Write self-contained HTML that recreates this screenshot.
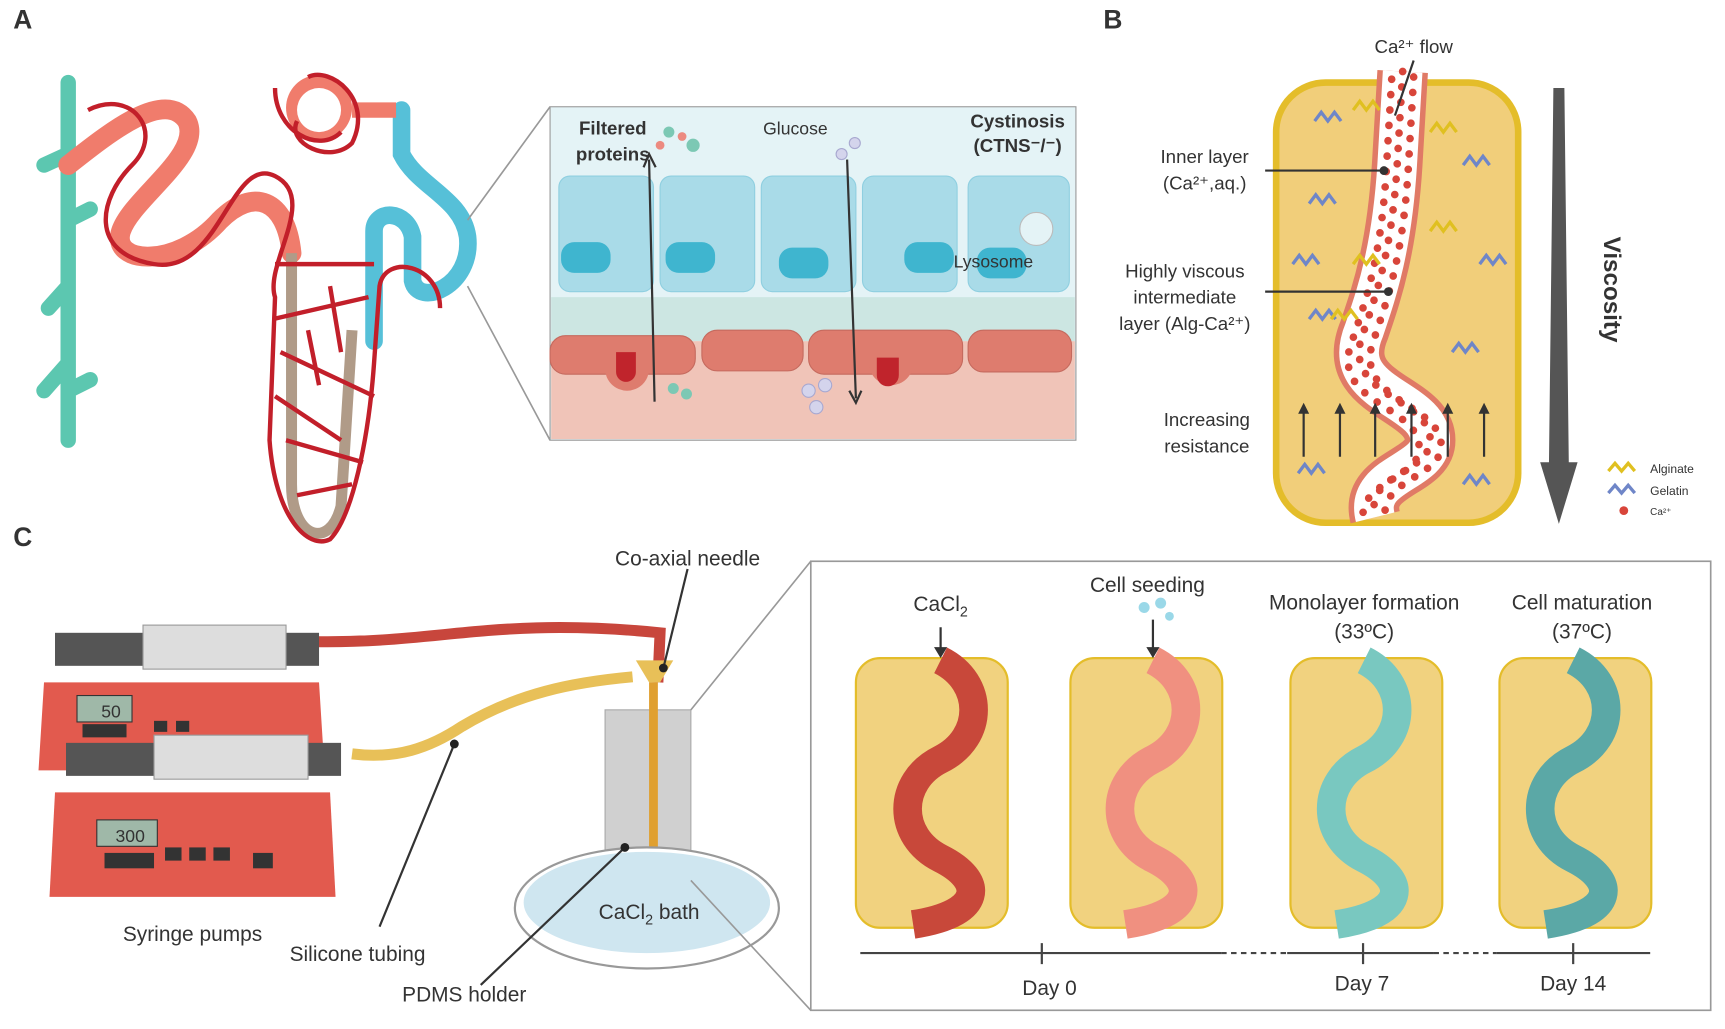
<!DOCTYPE html>
<html><head><meta charset="utf-8"><style>
html,body{margin:0;padding:0;background:#fff;width:1725px;height:1029px;overflow:hidden}
svg text{font-family:"Liberation Sans",Arial,sans-serif;fill:#333}
</style></head><body>
<svg width="1725" height="1029" viewBox="0 0 1568 935" preserveAspectRatio="none" xmlns="http://www.w3.org/2000/svg">
<rect width="1568" height="935" fill="#fff"/>
<text x="12" y="26" font-size="24" font-weight="bold" fill="#111">A</text>
<text x="1003" y="26" font-size="24" font-weight="bold" fill="#111">B</text>
<text x="12" y="496" font-size="24" font-weight="bold" fill="#111">C</text>

<!-- Panel A kidney -->
<path d="M62 75 L62 400 M62 140 L40 150 M62 200 L82 190 M62 260 L44 280 M62 330 L40 355 M62 355 L82 345" stroke="#5cc7b0" stroke-width="14" fill="none" stroke-linecap="round"/>
<path d="M62 150 C100 120,150 80,170 110 C185 140,120 180,110 210 C100 240,160 245,200 200 C230 170,260 180,265 230" stroke="#f07c6c" stroke-width="18" fill="none" stroke-linecap="round"/>
<path d="M265 230 L265 440 C265 490,300 500,310 460 L320 300" stroke="#b09b88" stroke-width="10" fill="none"/>
<path d="M340 310 L340 210 C340 190,370 190,375 215 L375 255 C380 280,430 260,425 215 C420 180,380 170,365 140 L365 100" stroke="#56c0d8" stroke-width="16" fill="none" stroke-linecap="round"/>
<circle cx="290" cy="98" r="30" fill="#f07c6c"/><circle cx="290" cy="100" r="20" fill="#fff"/>
<path d="M320 100 L360 100" stroke="#f07c6c" stroke-width="14"/>
<g stroke="#c21f2a" stroke-width="4" fill="none">
<path d="M80 100 C120 80,150 120,120 150 C90 180,80 230,140 240 C200 250,210 140,250 160 C290 180,240 240,250 270 L245 400 C250 470,280 500,300 490 C320 470,335 400,340 330 L345 260 C350 230,400 240,400 280"/>
<path d="M250 240 L340 240 M248 290 L335 270 M255 320 L340 360 M250 360 L310 400 M260 400 L330 420 M280 300 L290 350 M300 260 L310 320 M270 450 L320 440"/>
<path d="M250 80 C250 120,290 140,310 120 M280 70 C300 60,340 90,320 130 C300 150,260 130,270 110"/>
</g>
<path d="M425 200 L500 97 M425 260 L500 400" stroke="#999" stroke-width="1.5"/>
<rect x="500" y="97" width="478" height="303" fill="#e4f3f6" stroke="#999"/>
<rect x="501" y="270" width="476" height="40" fill="#cce6e2"/>
<rect x="501" y="310" width="476" height="89" fill="#f0c4b8"/>
<g fill="#a9dbe8" stroke="#8fcfe0">
<rect x="508" y="160" width="86" height="105" rx="10"/><rect x="600" y="160" width="86" height="105" rx="10"/>
<rect x="692" y="160" width="86" height="105" rx="10"/><rect x="784" y="160" width="86" height="105" rx="10"/>
<rect x="880" y="160" width="92" height="105" rx="10"/></g>
<g fill="#3fb5cf"><rect x="510" y="220" width="45" height="28" rx="12"/><rect x="605" y="220" width="45" height="28" rx="12"/><rect x="708" y="225" width="45" height="28" rx="12"/><rect x="822" y="220" width="45" height="28" rx="12"/><rect x="888" y="225" width="45" height="28" rx="12"/></g>
<circle cx="942" cy="208" r="15" fill="#e4f3f6" stroke="#bbb"/>
<g fill="#de7c6e" stroke="#c56a5e"><rect x="500" y="305" width="132" height="35" rx="14"/><rect x="638" y="300" width="92" height="37" rx="14"/><rect x="735" y="300" width="140" height="40" rx="14"/><rect x="880" y="300" width="94" height="38" rx="14"/></g>
<path d="M550 335 a20 20 0 0 0 40 0 z M790 330 a20 20 0 0 0 40 0z" fill="#de7c6e"/>
<path d="M560 320 h18 v18 a9 9 0 0 1 -18 0z M797 325 h20 v16 a10 10 0 0 1 -20 0z" fill="#c0242c"/>
<path d="M595 365 L590 145 M770 145 L778 362" stroke="#333" stroke-width="2" fill="none"/>
<path d="M585 152 L590 140 L596 152 M772 355 L778 366 L783 355" stroke="#333" stroke-width="2" fill="none"/>
<text x="557" y="122" font-size="17" font-weight="bold" text-anchor="middle">Filtered</text>
<text x="557" y="146" font-size="17" font-weight="bold" text-anchor="middle">proteins</text>
<text x="723" y="122" font-size="16" text-anchor="middle" fill="#8a9ac8">Glucose</text>
<text x="925" y="116" font-size="17" font-weight="bold" text-anchor="middle">Cystinosis</text>
<text x="925" y="138" font-size="17" font-weight="bold" text-anchor="middle">(CTNS⁻/⁻)</text>
<text x="903" y="243" font-size="16" text-anchor="middle" fill="#555">Lysosome</text>
<g fill="#7cc8b4"><circle cx="608" cy="120" r="5"/><circle cx="630" cy="132" r="6"/><circle cx="612" cy="353" r="5"/><circle cx="624" cy="358" r="5"/></g>
<g fill="#ec8a80"><circle cx="620" cy="124" r="4"/><circle cx="600" cy="132" r="4"/></g>
<g fill="#d4d4ec" stroke="#a8a8d0"><circle cx="735" cy="355" r="6"/><circle cx="750" cy="350" r="6"/><circle cx="742" cy="370" r="6"/><circle cx="765" cy="140" r="5"/><circle cx="777" cy="130" r="5"/></g>

<!-- Panel B -->
<rect x="1160" y="75" width="220" height="400" rx="45" fill="#f1ce7a" stroke="#e4bd2a" stroke-width="6"/>
<path d="M1275 65 L1270 150 C1265 230,1250 270,1240 300 C1215 360,1300 360,1300 400 C1300 430,1240 430,1250 470" stroke="#e07a66" stroke-width="46" fill="none"/>
<path d="M1275 65 L1270 150 C1265 230,1250 270,1240 300 C1215 360,1300 360,1300 400 C1300 430,1240 430,1250 470" stroke="#fff" stroke-width="36" fill="none"/>
<path d="M1275 65 L1270 150 C1265 230,1250 270,1240 300 C1215 360,1300 360,1300 400 C1300 430,1240 430,1250 470" stroke="#d8453a" stroke-width="7" stroke-linecap="round" stroke-dasharray="0 14" fill="none"/>
<path d="M1275 65 L1270 150 C1265 230,1250 270,1240 300 C1215 360,1300 360,1300 400 C1300 430,1240 430,1250 470" stroke="#d8453a" stroke-width="7" stroke-linecap="round" stroke-dasharray="0 14" fill="none" transform="translate(-10 7)"/>
<path d="M1275 65 L1270 150 C1265 230,1250 270,1240 300 C1215 360,1300 360,1300 400 C1300 430,1240 430,1250 470" stroke="#d8453a" stroke-width="7" stroke-linecap="round" stroke-dasharray="0 14" fill="none" transform="translate(10 5)"/>
<g stroke="#6f86c8" stroke-width="3" fill="none">
<path d="M1195 110 l6 -8 l6 8 l6 -8 l6 8 M1190 185 l6 -8 l6 8 l6 -8 l6 8 M1175 240 l6 -8 l6 8 l6 -8 l6 8 M1320 320 l6 -8 l6 8 l6 -8 l6 8 M1330 150 l6 -8 l6 8 l6 -8 l6 8 M1345 240 l6 -8 l6 8 l6 -8 l6 8 M1330 440 l6 -8 l6 8 l6 -8 l6 8 M1180 430 l6 -8 l6 8 l6 -8 l6 8 M1190 290 l6 -8 l6 8 l6 -8 l6 8"/></g>
<g stroke="#e0c020" stroke-width="3" fill="none">
<path d="M1230 100 l6 -8 l6 8 l6 -8 l6 8 M1300 120 l6 -8 l6 8 l6 -8 l6 8 M1230 240 l6 -8 l6 8 l6 -8 l6 8 M1300 210 l6 -8 l6 8 l6 -8 l6 8 M1210 290 l6 -8 l6 8 l6 -8 l6 8"/></g>
<g stroke="#333" stroke-width="2"><path d="M1185 415 V372 M1218 415 V372 M1250 415 V372 M1283 415 V372 M1316 415 V372 M1349 415 V372"/></g>
<g fill="#333"><path d="M1180 376 L1185 366 L1190 376z M1213 376 L1218 366 L1223 376z M1245 376 L1250 366 L1255 376z M1278 376 L1283 366 L1288 376z M1311 376 L1316 366 L1321 376z M1344 376 L1349 366 L1354 376z"/></g>
<path d="M1150 155 L1258 155 M1150 265 L1262 265 M1285 55 L1268 105" stroke="#333" stroke-width="2"/>
<circle cx="1258" cy="155" r="4" fill="#333"/><circle cx="1262" cy="265" r="4" fill="#333"/>
<text x="1285" y="48" font-size="17" text-anchor="middle">Ca²⁺ flow</text>
<text x="1095" y="148" font-size="17" text-anchor="middle">Inner layer</text>
<text x="1095" y="172" font-size="17" text-anchor="middle">(Ca²⁺,aq.)</text>
<text x="1077" y="252" font-size="17" text-anchor="middle">Highly viscous</text>
<text x="1077" y="276" font-size="17" text-anchor="middle">intermediate</text>
<text x="1077" y="300" font-size="17" text-anchor="middle">layer (Alg-Ca²⁺)</text>
<text x="1097" y="387" font-size="17" text-anchor="middle">Increasing</text>
<text x="1097" y="411" font-size="17" text-anchor="middle">resistance</text>
<path d="M1412 80 L1422 80 L1426 420 L1434 420 L1417 476 L1400 420 L1408 420 Z" fill="#555"/>
<text x="0" y="0" font-size="22" font-weight="bold" transform="translate(1458 215) rotate(90)">Viscosity</text>
<path d="M1462 428 l6 -7 l6 7 l6 -7 l6 7" stroke="#e0c020" stroke-width="3" fill="none"/>
<path d="M1462 448 l6 -7 l6 7 l6 -7 l6 7" stroke="#6f86c8" stroke-width="3" fill="none"/>
<circle cx="1476" cy="464" r="4" fill="#d8453a"/>
<text x="1500" y="430" font-size="11">Alginate</text><text x="1500" y="450" font-size="11">Gelatin</text><text x="1500" y="468" font-size="9">Ca²⁺</text>

<!-- Panel C setup -->
<path d="M285 583 C400 585,450 560,600 575 L598 620" stroke="#c8463c" stroke-width="10" fill="none"/>
<path d="M320 685 C360 690,390 680,420 660 C470 630,520 620,575 615" stroke="#e8c058" stroke-width="10" fill="none"/>
<g>
<path d="M40 620 L290 620 L295 700 L35 700 Z" fill="#e25a4e"/>
<rect x="70" y="632" width="50" height="24" fill="#9fb8a8" stroke="#333"/><text x="92" y="652" font-size="16">50</text>
<rect x="50" y="575" width="240" height="30" fill="#555"/><rect x="130" y="568" width="130" height="40" fill="#ddd" stroke="#999"/>
<path d="M50 720 L300 720 L305 815 L45 815 Z" fill="#e25a4e"/>
<rect x="88" y="745" width="55" height="24" fill="#9fb8a8" stroke="#333"/><text x="105" y="765" font-size="16">300</text>
<rect x="60" y="675" width="250" height="30" fill="#555"/><rect x="140" y="668" width="140" height="40" fill="#ddd" stroke="#999"/>
<g fill="#333"><rect x="150" y="770" width="15" height="12"/><rect x="172" y="770" width="15" height="12"/><rect x="194" y="770" width="15" height="12"/><rect x="230" y="775" width="18" height="14"/><rect x="95" y="775" width="45" height="14"/><rect x="75" y="658" width="40" height="12"/><rect x="140" y="655" width="12" height="10"/><rect x="160" y="655" width="12" height="10"/></g>
</g>
<rect x="550" y="645" width="78" height="158" fill="#c8c8c8" opacity="0.85" stroke="#999"/>
<path d="M578 600 L612 600 L600 620 L590 620 Z" fill="#e8c058"/>
<path d="M594 620 L594 800 C594 810,620 810,650 800" stroke="#e0a030" stroke-width="8" fill="none"/>
<ellipse cx="588" cy="825" rx="120" ry="55" fill="#fff" stroke="#999" stroke-width="2"/>
<ellipse cx="588" cy="820" rx="112" ry="46" fill="#cfe6f0"/>
<text x="590" y="835" font-size="19" text-anchor="middle">CaCl<tspan font-size="13" dy="5">2</tspan><tspan dy="-5"> bath</tspan></text>
<g stroke="#333" stroke-width="2" fill="none"><path d="M625 517 L603 607 M413 676 L345 842 M568 770 L437 895"/></g>
<g fill="#222"><circle cx="603" cy="607" r="4"/><circle cx="413" cy="676" r="4"/><circle cx="568" cy="770" r="4"/></g>
<text x="625" y="514" font-size="19" text-anchor="middle">Co-axial needle</text>
<text x="175" y="855" font-size="19" text-anchor="middle">Syringe pumps</text>
<text x="325" y="873" font-size="19" text-anchor="middle">Silicone tubing</text>
<text x="422" y="910" font-size="19" text-anchor="middle">PDMS holder</text>
<path d="M628 645 L737 510 M628 800 L737 918" stroke="#999" stroke-width="1.5"/>

<rect x="737" y="510" width="818" height="408" fill="#fff" stroke="#999" stroke-width="1.5"/>
<g fill="#f1d27f" stroke="#e4bd2a" stroke-width="2">
<rect x="778" y="598" width="138" height="245" rx="22"/><rect x="973" y="598" width="138" height="245" rx="22"/>
<rect x="1173" y="598" width="138" height="245" rx="22"/><rect x="1363" y="598" width="138" height="245" rx="22"/></g>
<path id="w" d="M0 0 C40 20,40 70,0 90 C-40 110,-40 160,0 180 C40 200,40 230,-25 240" fill="none"/>
<use href="#w" x="855" y="600" stroke="#c8483a" stroke-width="26"/>
<use href="#w" x="1048" y="600" stroke="#f09080" stroke-width="26"/>
<use href="#w" x="1240" y="600" stroke="#79c8c0" stroke-width="26"/>
<use href="#w" x="1430" y="600" stroke="#5ba8a6" stroke-width="26"/>
<path d="M855 570 V592 M1048 563 V592" stroke="#333" stroke-width="2"/>
<path d="M849 588 L855 598 L861 588z M1042 588 L1048 598 L1054 588z" fill="#333"/>
<g fill="#9ad8e8"><circle cx="1040" cy="552" r="5"/><circle cx="1055" cy="548" r="5"/><circle cx="1063" cy="560" r="4"/></g>
<text x="855" y="555" font-size="19" text-anchor="middle">CaCl<tspan font-size="13" dy="5">2</tspan></text>
<text x="1043" y="538" font-size="19" text-anchor="middle">Cell seeding</text>
<text x="1240" y="554" font-size="19" text-anchor="middle">Monolayer formation</text>
<text x="1240" y="580" font-size="19" text-anchor="middle">(33ºC)</text>
<text x="1438" y="554" font-size="19" text-anchor="middle">Cell maturation</text>
<text x="1438" y="580" font-size="19" text-anchor="middle">(37ºC)</text>
<g stroke="#444" stroke-width="2"><path d="M782 866 H1110 M1170 866 H1303 M1360 866 H1500 M947 857 V876 M1239 857 V876 M1430 857 V876"/>
<path d="M1110 866 H1170 M1303 866 H1360" stroke-dasharray="5 4"/></g>
<text x="954" y="904" font-size="19" text-anchor="middle">Day 0</text>
<text x="1238" y="900" font-size="19" text-anchor="middle">Day 7</text>
<text x="1430" y="900" font-size="19" text-anchor="middle">Day 14</text>
</svg>
</body></html>
